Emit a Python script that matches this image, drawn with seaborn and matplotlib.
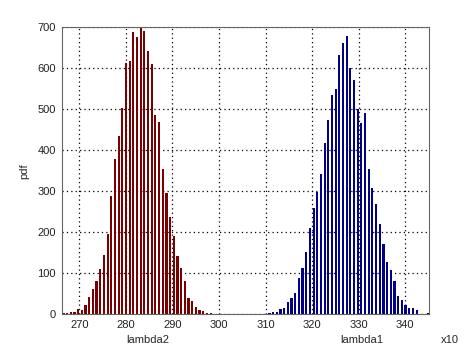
import matplotlib
matplotlib.use("Agg")
import matplotlib.pyplot as plt
import seaborn as sns
import numpy as np
import pandas as pd

# histogram counts (100 bins over the data range)
x_min, x_max, n_bins = 266.2, 345.2, 100

# lambda2 (dark red), bins 0..43
lambda2_start = 0
lambda2_counts = [4, 4, 5, 6, 13, 11, 23, 43, 63, 82,
                  110, 145, 196, 288, 380, 436, 503, 614, 618, 689,
                  676, 699, 691, 642, 611, 487, 470, 355, 296, 237,
                  191, 142, 112, 82, 40, 33, 17, 11, 7, 4,
                  3, 0, 0, 2]

# lambda1 (dark blue), bins 52..99
lambda1_start = 52
lambda1_counts = [1, 1, 0, 2, 3, 5, 6, 13, 15, 31,
                  40, 51, 89, 112, 152, 210, 259, 299, 342, 419,
                  474, 535, 550, 633, 662, 678, 601, 572, 500, 466,
                  492, 355, 308, 270, 221, 172, 128, 108, 81, 45,
                  35, 24, 16, 15, 11, 0, 0, 3]

xticks = [270, 280, 290, 300, 310, 320, 330, 340]
yticks = [0, 100, 200, 300, 400, 500, 600, 700]

edges = np.linspace(x_min, x_max, n_bins + 1)
centers = (edges[:-1] + edges[1:]) / 2

rows = []
for name, start, counts in [("lambda2", lambda2_start, lambda2_counts),
                            ("lambda1", lambda1_start, lambda1_counts)]:
    for i, c in enumerate(counts):
        rows.append({"value": centers[start + i], "count": c, "series": name})
df = pd.DataFrame(rows)

sns.set_style("white")
plt.rcParams['font.family'] = ['Liberation Sans', 'DejaVu Sans']

fig = plt.figure(figsize=(4.74, 3.54), dpi=100)
ax = fig.add_axes([0.130, 0.112, 0.776, 0.811])

sns.histplot(data=df, x="value", weights="count", hue="series",
             bins=n_bins, binrange=(x_min, x_max),
             shrink=0.58, multiple="layer", alpha=1, linewidth=0,
             palette={"lambda2": "#780000", "lambda1": "#000088"},
             legend=False, ax=ax)

ax.set_xlim(x_min, x_max)
ax.set_ylim(0, 700)
ax.set_xticks(xticks)
ax.set_yticks(yticks)
ax.grid(True, linestyle=(0, (1, 2.5)), color="black", linewidth=0.9)
ax.set_axisbelow(True)
ax.tick_params(direction="in", length=3, labelsize=8, pad=4, colors="#222222")
for s in ax.spines.values():
    s.set_color("#666666")
    s.set_linewidth(0.8)

ax.set_xlabel("")
ax.set_ylabel("pdf", fontsize=8, labelpad=6)

fig.text(0.312, 0.04, "lambda2", ha="center", va="center", fontsize=8)
fig.text(0.763, 0.04, "lambda1", ha="center", va="center", fontsize=8)
fig.text(0.949, 0.04, "x10", ha="center", va="center", fontsize=8)

fig.savefig("out.png", dpi=100)
